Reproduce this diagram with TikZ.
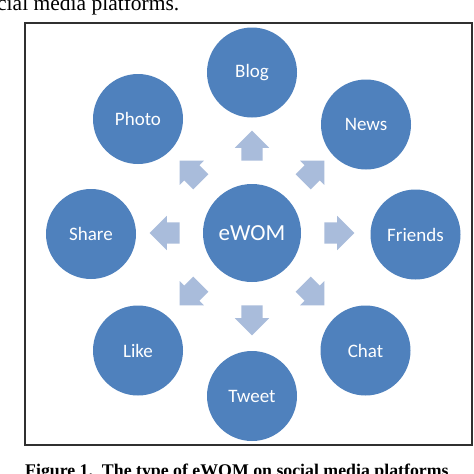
\documentclass[tikz,border=0pt]{standalone}
\usepackage{fontspec}
\setmainfont{Liberation Serif}
\newfontfamily\calib{Carlito}
\usetikzlibrary{shapes.arrows,calc}
\definecolor{circblue}{HTML}{4F81BD}
\definecolor{arrblue}{HTML}{A9BCDB}
\definecolor{frameclr}{HTML}{303030}
\tikzset{
  outer/.style={circle, fill=circblue, minimum size=90pt, inner sep=0pt,
    text=white, font=\calib\fontsize{19}{22}\selectfont},
  centre/.style={circle, fill=circblue, minimum size=98pt, inner sep=0pt,
    text=white, font=\calib\fontsize{23}{27}\selectfont},
  blockarrow/.style={single arrow, fill=arrblue, inner xsep=0pt, inner ysep=10.5pt,
    minimum height=30pt, minimum width=34pt, single arrow head extend=6.5pt,
    single arrow tip angle=90}
}
\begin{document}
\begin{tikzpicture}[x=1pt,y=-1pt]
\useasboundingbox (0,0) rectangle (474,474);
\clip (0,0) rectangle (474,474);
\fill[white] (0,0) rectangle (474,474);
\node[anchor=base west, font=\fontsize{21.5}{24}\selectfont, inner sep=0pt] (toptext) at (-3,10) {cial media platforms.};
\draw[frameclr, line width=1.2pt] (25,23) rectangle (472,445);
\node[centre] (ewom) at (252,233) {eWOM};
\node[outer] (blog) at (252,72.5) {Blog};
\node[outer] (news) at (366,124.5) {News};
\node[outer] (friends) at (415.5,234.5) {Friends};
\node[outer] (chat) at (365.5,350.5) {Chat};
\node[outer] (tweet) at (252,396) {Tweet};
\node[outer] (like) at (138,350.5) {Like};
\node[outer] (share) at (91,234) {Share};
\node[outer] (photo) at (138,119) {Photo};
\foreach \a/\n in {90/aup,45/aur,0/ar,-45/adr,-90/ad,-135/adl,180/al,135/aul}{
  \node[blockarrow, rotate=\a] (\n) at ($(ewom)+({82*cos(\a)},{-82*sin(\a)})$) {};
}
\node[anchor=base west, font=\bfseries\fontsize{17.8}{20}\selectfont, inner sep=0pt] (caption) at (25,476) {Figure 1.\ \ The type of eWOM on social media platforms};
\end{tikzpicture}
\end{document}
